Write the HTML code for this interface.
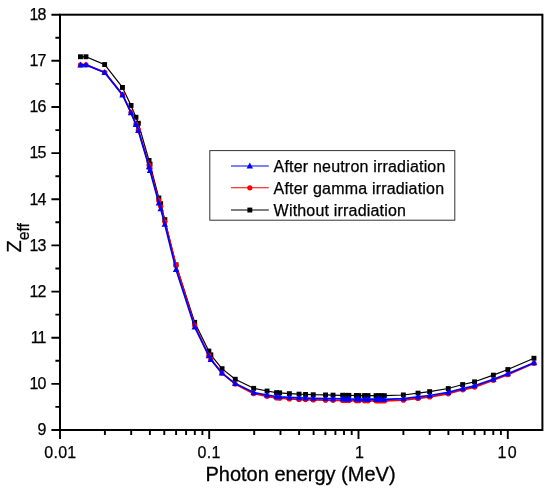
<!DOCTYPE html>
<html><head><meta charset="utf-8"><title>Zeff vs photon energy</title>
<style>html,body{margin:0;padding:0;background:#fff}</style></head>
<body>
<svg width="550" height="494" viewBox="0 0 550 494" style="display:block">
<rect width="550" height="494" fill="#fff"/>
<rect x="60.0" y="14.7" width="482.4" height="415.3" fill="none" stroke="#000" stroke-width="2"/>
<path d="M60.0 430.0H51.4M60.0 406.9H55.4M60.0 383.9H51.4M60.0 360.8H55.4M60.0 337.7H51.4M60.0 314.6H55.4M60.0 291.6H51.4M60.0 268.5H55.4M60.0 245.4H51.4M60.0 222.3H55.4M60.0 199.3H51.4M60.0 176.2H55.4M60.0 153.1H51.4M60.0 130.1H55.4M60.0 107.0H51.4M60.0 83.9H55.4M60.0 60.8H51.4M60.0 37.8H55.4M60.0 14.7H51.4M60.0 430.0V439.0M104.9 430.0V434.9M131.2 430.0V434.9M149.9 430.0V434.9M164.3 430.0V434.9M176.1 430.0V434.9M186.1 430.0V434.9M194.8 430.0V434.9M202.4 430.0V434.9M209.2 430.0V439.0M254.2 430.0V434.9M280.5 430.0V434.9M299.1 430.0V434.9M313.6 430.0V434.9M325.4 430.0V434.9M335.4 430.0V434.9M344.0 430.0V434.9M351.7 430.0V434.9M358.5 430.0V439.0M403.4 430.0V434.9M429.7 430.0V434.9M448.4 430.0V434.9M462.8 430.0V434.9M474.6 430.0V434.9M484.6 430.0V434.9M493.3 430.0V434.9M500.9 430.0V434.9M507.8 430.0V439.0" stroke="#000" stroke-width="1.9" fill="none"/>
<g font-family="'Liberation Sans', sans-serif" font-size="16" fill="#000" stroke="#000" stroke-width="0.25">
<text x="46.3" y="435.2" text-anchor="end">9</text>
<text x="46.3" y="389.1" text-anchor="end">1<tspan dx="-1">0</tspan></text>
<text x="46.3" y="342.9" text-anchor="end">1<tspan dx="-1">1</tspan></text>
<text x="46.3" y="296.8" text-anchor="end">1<tspan dx="-1">2</tspan></text>
<text x="46.3" y="250.6" text-anchor="end">1<tspan dx="-1">3</tspan></text>
<text x="46.3" y="204.5" text-anchor="end">1<tspan dx="-1">4</tspan></text>
<text x="46.3" y="158.3" text-anchor="end">1<tspan dx="-1">5</tspan></text>
<text x="46.3" y="112.2" text-anchor="end">1<tspan dx="-1">6</tspan></text>
<text x="46.3" y="66.0" text-anchor="end">1<tspan dx="-1">7</tspan></text>
<text x="46.3" y="19.9" text-anchor="end">1<tspan dx="-1">8</tspan></text>
<text x="60.4" y="457.7" text-anchor="middle" letter-spacing="0.3">0.01</text>
<text x="209.2" y="457.7" text-anchor="middle" letter-spacing="0.3">0.1</text>
<text x="359.4" y="457.7" text-anchor="middle" letter-spacing="0">1</text>
<text x="507.1" y="457.7" text-anchor="middle">1<tspan dx="1.5">0</tspan></text>
</g>
<text x="300.5" y="480.8" text-anchor="middle" font-family="'Liberation Sans', sans-serif" font-size="20" fill="#000" stroke="#000" stroke-width="0.3">Photon energy (MeV)</text>
<text transform="translate(20.8,252.5) rotate(-90)" font-family="'Liberation Sans', sans-serif" font-size="20" fill="#000" stroke="#000" stroke-width="0.3">Z<tspan font-size="15.8" dy="7.7">eff</tspan></text>
<polyline fill="none" stroke="#000" stroke-width="1.2" stroke-linejoin="round" points="80.5,56.8 86.0,56.8 104.7,64.6 122.5,87.4 131.0,105.4 135.9,117.3 138.3,123.2 149.0,160.5 150.0,164.1 158.8,197.9 160.7,203.7 164.8,219.6 176.0,264.8 194.7,322.4 208.8,351.1 210.8,354.8 222.0,368.6 235.2,379.2 253.7,388.3 267.0,391.0 276.5,392.6 279.6,392.9 289.4,393.6 299.0,394.2 305.5,394.4 313.2,394.7 325.5,394.9 333.0,395.1 342.7,395.3 345.8,395.3 348.9,395.4 356.4,395.5 358.8,395.5 364.5,395.6 368.0,395.6 376.0,395.6 378.5,395.7 381.3,395.7 384.3,395.7 403.4,395.0 418.0,393.2 429.7,391.7 448.2,388.5 462.7,384.5 474.5,381.8 493.3,375.1 507.8,369.5 534.0,358.2"/>
<rect x="78.0" y="54.3" width="4.9" height="4.9" fill="#000"/><rect x="83.5" y="54.3" width="4.9" height="4.9" fill="#000"/><rect x="102.2" y="62.1" width="4.9" height="4.9" fill="#000"/><rect x="120.0" y="85.0" width="4.9" height="4.9" fill="#000"/><rect x="128.6" y="103.0" width="4.9" height="4.9" fill="#000"/><rect x="133.5" y="114.8" width="4.9" height="4.9" fill="#000"/><rect x="135.9" y="120.8" width="4.9" height="4.9" fill="#000"/><rect x="146.6" y="158.0" width="4.9" height="4.9" fill="#000"/><rect x="147.6" y="161.7" width="4.9" height="4.9" fill="#000"/><rect x="156.4" y="195.5" width="4.9" height="4.9" fill="#000"/><rect x="158.2" y="201.2" width="4.9" height="4.9" fill="#000"/><rect x="162.4" y="217.2" width="4.9" height="4.9" fill="#000"/><rect x="173.6" y="262.4" width="4.9" height="4.9" fill="#000"/><rect x="192.2" y="319.9" width="4.9" height="4.9" fill="#000"/><rect x="206.4" y="348.6" width="4.9" height="4.9" fill="#000"/><rect x="208.4" y="352.4" width="4.9" height="4.9" fill="#000"/><rect x="219.6" y="366.2" width="4.9" height="4.9" fill="#000"/><rect x="232.8" y="376.8" width="4.9" height="4.9" fill="#000"/><rect x="251.2" y="385.9" width="4.9" height="4.9" fill="#000"/><rect x="264.6" y="388.6" width="4.9" height="4.9" fill="#000"/><rect x="274.1" y="390.2" width="4.9" height="4.9" fill="#000"/><rect x="277.2" y="390.4" width="4.9" height="4.9" fill="#000"/><rect x="286.9" y="391.2" width="4.9" height="4.9" fill="#000"/><rect x="296.6" y="391.7" width="4.9" height="4.9" fill="#000"/><rect x="303.1" y="392.0" width="4.9" height="4.9" fill="#000"/><rect x="310.8" y="392.3" width="4.9" height="4.9" fill="#000"/><rect x="323.1" y="392.5" width="4.9" height="4.9" fill="#000"/><rect x="330.6" y="392.7" width="4.9" height="4.9" fill="#000"/><rect x="340.2" y="392.8" width="4.9" height="4.9" fill="#000"/><rect x="343.4" y="392.9" width="4.9" height="4.9" fill="#000"/><rect x="346.4" y="392.9" width="4.9" height="4.9" fill="#000"/><rect x="353.9" y="393.0" width="4.9" height="4.9" fill="#000"/><rect x="356.4" y="393.1" width="4.9" height="4.9" fill="#000"/><rect x="362.1" y="393.1" width="4.9" height="4.9" fill="#000"/><rect x="365.6" y="393.1" width="4.9" height="4.9" fill="#000"/><rect x="373.6" y="393.2" width="4.9" height="4.9" fill="#000"/><rect x="376.1" y="393.2" width="4.9" height="4.9" fill="#000"/><rect x="378.9" y="393.2" width="4.9" height="4.9" fill="#000"/><rect x="381.9" y="393.2" width="4.9" height="4.9" fill="#000"/><rect x="400.9" y="392.5" width="4.9" height="4.9" fill="#000"/><rect x="415.6" y="390.7" width="4.9" height="4.9" fill="#000"/><rect x="427.2" y="389.2" width="4.9" height="4.9" fill="#000"/><rect x="445.8" y="386.1" width="4.9" height="4.9" fill="#000"/><rect x="460.2" y="382.1" width="4.9" height="4.9" fill="#000"/><rect x="472.1" y="379.4" width="4.9" height="4.9" fill="#000"/><rect x="490.9" y="372.7" width="4.9" height="4.9" fill="#000"/><rect x="505.4" y="367.1" width="4.9" height="4.9" fill="#000"/><rect x="531.5" y="355.8" width="4.9" height="4.9" fill="#000"/>
<polyline fill="none" stroke="#f00" stroke-width="1.7" stroke-linejoin="round" points="80.5,64.9 86.0,64.8 104.7,72.4 122.5,94.5 131.0,112.3 135.9,124.1 138.3,129.9 149.0,165.0 150.0,168.4 158.8,200.7 160.7,206.3 164.8,221.8 176.0,265.2 194.7,325.5 208.8,355.3 210.8,359.1 222.0,373.1 235.2,384.1 253.7,393.7 267.0,396.3 276.5,397.9 279.6,398.2 289.4,398.9 299.0,399.4 305.5,399.6 313.2,399.9 325.5,400.2 333.0,400.3 342.7,400.5 345.8,400.5 348.9,400.6 356.4,400.7 358.8,400.7 364.5,400.8 368.0,400.8 376.0,400.8 378.5,400.9 381.3,400.9 384.3,400.9 403.4,400.2 418.0,398.4 429.7,396.9 448.2,393.8 462.7,389.8 474.5,387.1 493.3,380.3 507.8,374.7 534.0,363.3"/>
<circle cx="80.5" cy="64.9" r="2.6" fill="#f00"/><circle cx="86.0" cy="64.8" r="2.6" fill="#f00"/><circle cx="104.7" cy="72.4" r="2.6" fill="#f00"/><circle cx="122.5" cy="94.5" r="2.6" fill="#f00"/><circle cx="131.0" cy="112.3" r="2.6" fill="#f00"/><circle cx="135.9" cy="124.1" r="2.6" fill="#f00"/><circle cx="138.3" cy="129.9" r="2.6" fill="#f00"/><circle cx="149.0" cy="165.0" r="2.6" fill="#f00"/><circle cx="150.0" cy="168.4" r="2.6" fill="#f00"/><circle cx="158.8" cy="200.7" r="2.6" fill="#f00"/><circle cx="160.7" cy="206.3" r="2.6" fill="#f00"/><circle cx="164.8" cy="221.8" r="2.6" fill="#f00"/><circle cx="176.0" cy="265.2" r="2.6" fill="#f00"/><circle cx="194.7" cy="325.5" r="2.6" fill="#f00"/><circle cx="208.8" cy="355.3" r="2.6" fill="#f00"/><circle cx="210.8" cy="359.1" r="2.6" fill="#f00"/><circle cx="222.0" cy="373.1" r="2.6" fill="#f00"/><circle cx="235.2" cy="384.1" r="2.6" fill="#f00"/><circle cx="253.7" cy="393.7" r="2.6" fill="#f00"/><circle cx="267.0" cy="396.3" r="2.6" fill="#f00"/><circle cx="276.5" cy="397.9" r="2.6" fill="#f00"/><circle cx="279.6" cy="398.2" r="2.6" fill="#f00"/><circle cx="289.4" cy="398.9" r="2.6" fill="#f00"/><circle cx="299.0" cy="399.4" r="2.6" fill="#f00"/><circle cx="305.5" cy="399.6" r="2.6" fill="#f00"/><circle cx="313.2" cy="399.9" r="2.6" fill="#f00"/><circle cx="325.5" cy="400.2" r="2.6" fill="#f00"/><circle cx="333.0" cy="400.3" r="2.6" fill="#f00"/><circle cx="342.7" cy="400.5" r="2.6" fill="#f00"/><circle cx="345.8" cy="400.5" r="2.6" fill="#f00"/><circle cx="348.9" cy="400.6" r="2.6" fill="#f00"/><circle cx="356.4" cy="400.7" r="2.6" fill="#f00"/><circle cx="358.8" cy="400.7" r="2.6" fill="#f00"/><circle cx="364.5" cy="400.8" r="2.6" fill="#f00"/><circle cx="368.0" cy="400.8" r="2.6" fill="#f00"/><circle cx="376.0" cy="400.8" r="2.6" fill="#f00"/><circle cx="378.5" cy="400.9" r="2.6" fill="#f00"/><circle cx="381.3" cy="400.9" r="2.6" fill="#f00"/><circle cx="384.3" cy="400.9" r="2.6" fill="#f00"/><circle cx="403.4" cy="400.2" r="2.6" fill="#f00"/><circle cx="418.0" cy="398.4" r="2.6" fill="#f00"/><circle cx="429.7" cy="396.9" r="2.6" fill="#f00"/><circle cx="448.2" cy="393.8" r="2.6" fill="#f00"/><circle cx="462.7" cy="389.8" r="2.6" fill="#f00"/><circle cx="474.5" cy="387.1" r="2.6" fill="#f00"/><circle cx="493.3" cy="380.3" r="2.6" fill="#f00"/><circle cx="507.8" cy="374.7" r="2.6" fill="#f00"/><circle cx="534.0" cy="363.3" r="2.6" fill="#f00"/>
<polyline fill="none" stroke="#00f" stroke-width="1.7" stroke-linejoin="round" points="80.5,64.9 86.0,64.9 104.7,72.5 122.5,94.9 131.0,112.7 135.9,124.6 138.3,130.5 149.0,166.8 150.0,170.4 158.8,203.1 160.7,208.8 164.8,224.3 176.0,269.4 194.7,327.1 208.8,355.8 210.8,359.5 222.0,373.2 235.2,383.6 253.7,392.5 267.0,395.0 276.5,396.5 279.6,396.8 289.4,397.3 299.0,397.8 305.5,398.0 313.2,398.3 325.5,398.6 333.0,398.7 342.7,398.9 345.8,398.9 348.9,399.0 356.4,399.1 358.8,399.1 364.5,399.2 368.0,399.2 376.0,399.2 378.5,399.3 381.3,399.3 384.3,399.3 403.4,398.6 418.0,396.9 429.7,395.5 448.2,392.4 462.7,388.5 474.5,385.8 493.3,379.2 507.8,373.7 534.0,362.7"/>
<polygon points="80.5,61.5 77.3,67.4 83.7,67.4" fill="#00f"/><polygon points="86.0,61.4 82.8,67.3 89.2,67.3" fill="#00f"/><polygon points="104.7,69.1 101.5,75.0 107.9,75.0" fill="#00f"/><polygon points="122.5,91.5 119.3,97.4 125.7,97.4" fill="#00f"/><polygon points="131.0,109.3 127.8,115.2 134.2,115.2" fill="#00f"/><polygon points="135.9,121.2 132.7,127.1 139.1,127.1" fill="#00f"/><polygon points="138.3,127.1 135.1,133.0 141.5,133.0" fill="#00f"/><polygon points="149.0,163.4 145.8,169.3 152.2,169.3" fill="#00f"/><polygon points="150.0,167.0 146.8,172.9 153.2,172.9" fill="#00f"/><polygon points="158.8,199.7 155.6,205.6 162.0,205.6" fill="#00f"/><polygon points="160.7,205.3 157.5,211.2 163.9,211.2" fill="#00f"/><polygon points="164.8,220.9 161.6,226.8 168.0,226.8" fill="#00f"/><polygon points="176.0,266.0 172.8,271.9 179.2,271.9" fill="#00f"/><polygon points="194.7,323.7 191.5,329.6 197.9,329.6" fill="#00f"/><polygon points="208.8,352.4 205.6,358.3 212.0,358.3" fill="#00f"/><polygon points="210.8,356.1 207.6,362.0 214.0,362.0" fill="#00f"/><polygon points="222.0,369.7 218.8,375.6 225.2,375.6" fill="#00f"/><polygon points="235.2,380.2 232.0,386.1 238.4,386.1" fill="#00f"/><polygon points="253.7,389.1 250.5,395.0 256.9,395.0" fill="#00f"/><polygon points="267.0,391.6 263.8,397.5 270.2,397.5" fill="#00f"/><polygon points="276.5,393.1 273.3,399.0 279.7,399.0" fill="#00f"/><polygon points="279.6,393.3 276.4,399.2 282.8,399.2" fill="#00f"/><polygon points="289.4,393.9 286.2,399.8 292.6,399.8" fill="#00f"/><polygon points="299.0,394.4 295.8,400.3 302.2,400.3" fill="#00f"/><polygon points="305.5,394.6 302.3,400.5 308.7,400.5" fill="#00f"/><polygon points="313.2,394.9 310.0,400.8 316.4,400.8" fill="#00f"/><polygon points="325.5,395.1 322.3,401.0 328.7,401.0" fill="#00f"/><polygon points="333.0,395.3 329.8,401.2 336.2,401.2" fill="#00f"/><polygon points="342.7,395.4 339.5,401.3 345.9,401.3" fill="#00f"/><polygon points="345.8,395.5 342.6,401.4 349.0,401.4" fill="#00f"/><polygon points="348.9,395.5 345.7,401.4 352.1,401.4" fill="#00f"/><polygon points="356.4,395.7 353.2,401.6 359.6,401.6" fill="#00f"/><polygon points="358.8,395.7 355.6,401.6 362.0,401.6" fill="#00f"/><polygon points="364.5,395.7 361.3,401.6 367.7,401.6" fill="#00f"/><polygon points="368.0,395.8 364.8,401.7 371.2,401.7" fill="#00f"/><polygon points="376.0,395.8 372.8,401.7 379.2,401.7" fill="#00f"/><polygon points="378.5,395.8 375.3,401.7 381.7,401.7" fill="#00f"/><polygon points="381.3,395.9 378.1,401.8 384.5,401.8" fill="#00f"/><polygon points="384.3,395.9 381.1,401.8 387.5,401.8" fill="#00f"/><polygon points="403.4,395.2 400.2,401.1 406.6,401.1" fill="#00f"/><polygon points="418.0,393.5 414.8,399.4 421.2,399.4" fill="#00f"/><polygon points="429.7,392.0 426.5,397.9 432.9,397.9" fill="#00f"/><polygon points="448.2,389.0 445.0,394.9 451.4,394.9" fill="#00f"/><polygon points="462.7,385.0 459.5,390.9 465.9,390.9" fill="#00f"/><polygon points="474.5,382.4 471.3,388.3 477.7,388.3" fill="#00f"/><polygon points="493.3,375.8 490.1,381.7 496.5,381.7" fill="#00f"/><polygon points="507.8,370.3 504.6,376.2 511.0,376.2" fill="#00f"/><polygon points="534.0,359.3 530.8,365.2 537.2,365.2" fill="#00f"/>
<rect x="209.8" y="150.6" width="245.0" height="69.6" fill="#fff" stroke="#333" stroke-width="1"/>
<g font-family="'Liberation Sans', sans-serif" font-size="16" fill="#000" stroke="#000" stroke-width="0.25" letter-spacing="0.19">
<path d="M231 166.0H268.8" stroke="#00f" stroke-width="1.05"/>
<polygon points="249.8,162.6 246.6,168.5 253.0,168.5" fill="#00f" stroke="none"/>
<text x="273.6" y="171.7">After neutron irradiation</text>
<path d="M231 187.8H268.8" stroke="#f00" stroke-width="1.05"/>
<circle cx="249.8" cy="187.8" r="2.6" fill="#f00" stroke="none"/>
<text x="273.6" y="193.5">After gamma irradiation</text>
<path d="M231 210.0H268.8" stroke="#000" stroke-width="1.05"/>
<rect x="247.4" y="207.6" width="4.9" height="4.9" fill="#000" stroke="none"/>
<text x="273.6" y="215.7">Without irradiation</text>
</g>
</svg>
</body></html>
